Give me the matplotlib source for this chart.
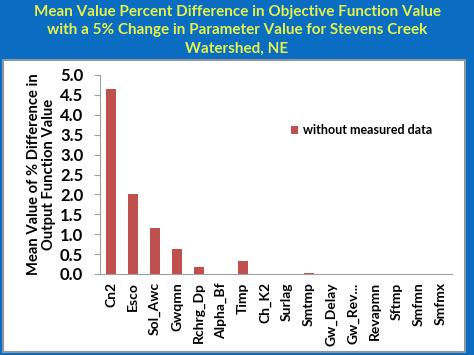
import matplotlib.pyplot as plt
from matplotlib.patches import Rectangle

# parameter names and mean % difference values
params = ['Cn2', 'Esco', 'Sol_Awc', 'Gwqmn', 'Rchrg_Dp', 'Alpha_Bf', 'Timp',
          'Ch_K2', 'Surlag', 'Smtmp', 'Gw_Delay', 'Gw_Rev...', 'Revapmn',
          'Sftmp', 'Smfmn', 'Smfmx']
mean_diff = [4.65, 2.0, 1.15, 0.62, 0.17, 0.0, 0.32,
             0.0, 0.0, 0.02, 0.0, 0.0, 0.0, 0.0, 0.0, 0.0]
yticks = [0.0, 0.5, 1.0, 1.5, 2.0, 2.5, 3.0, 3.5, 4.0, 4.5, 5.0]

plt.rcParams['font.family'] = ['Lato', 'DejaVu Sans']
plt.rcParams['font.weight'] = 'bold'

W, H = 474, 355
fig = plt.figure(figsize=(W / 100, H / 100), dpi=100, facecolor='#0A6DC2')

# white chart area with grey frame
fig.patches.append(Rectangle((3 / W, 1 - 352 / H), 462 / W, 292 / H,
                             transform=fig.transFigure, facecolor='white',
                             edgecolor='#8C969E', lw=1.5, zorder=-10))

fig.text(0.5, 1 - 30 / H,
         'Mean Value Percent Difference in Objective Function Value\n'
         'with a 5% Change in Parameter Value for Stevens Creek\n'
         'Watershed, NE',
         ha='center', va='center', color='#E4F24E', fontsize=11,
         fontweight='bold', linespacing=1.4)

ax = fig.add_axes([100 / W, 1 - 274 / H, 352 / W, 199 / H])
ax.bar(range(len(params)), mean_diff, width=0.45, color='#C0504D',
       label='without measured data')

ax.set_xlim(-0.5, len(params) - 0.5)
ax.set_ylim(0, 5.0)
ax.set_yticks(yticks)
ax.set_yticklabels(['%.1f' % v for v in yticks], fontsize=12)
ax.set_xticks(range(len(params)))
ax.set_xticklabels(params, rotation=90, fontsize=10)
ax.tick_params(axis='x', length=0, pad=6)
ax.tick_params(axis='y', length=4, color='#A0A0A0', direction='out', pad=8)
for s in ['top', 'right']:
    ax.spines[s].set_visible(False)
ax.spines['left'].set_color('#A0A0A0')
ax.spines['bottom'].set_color('#A0A0A0')
ax.set_facecolor('white')

ax.set_ylabel('Mean Value of % Difference in\nOutput Function Value',
              fontsize=10.6, fontweight='bold', labelpad=3, linespacing=1.1)

ax.legend(loc='upper left', bbox_to_anchor=(0.51, 0.81), frameon=False,
          fontsize=9, handlelength=0.6, handleheight=0.6, handletextpad=0.4)

fig.savefig('out.png', dpi=100, facecolor=fig.get_facecolor())
